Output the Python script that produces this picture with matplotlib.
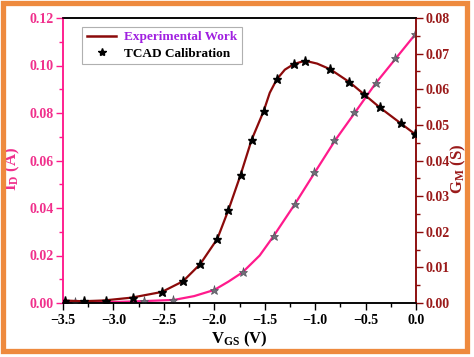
import matplotlib
matplotlib.use("Agg")
import matplotlib.pyplot as plt
from matplotlib.lines import Line2D
from matplotlib.patches import Rectangle
from matplotlib.ticker import MultipleLocator

plt.rcParams['font.family'] = ['Liberation Serif', 'DejaVu Serif']
plt.rcParams['font.weight'] = 'bold'
plt.rcParams['mathtext.fontset'] = 'custom'
plt.rcParams['mathtext.bf'] = 'Liberation Serif:bold'
plt.rcParams['mathtext.rm'] = 'Liberation Serif:bold'
plt.rcParams['mathtext.it'] = 'Liberation Serif:bold'
plt.rcParams['mathtext.default'] = 'bf'

# ---- data ----
vgs_id_line = [-3.5, -3.3, -3.0, -2.7, -2.4, -2.2, -2.0, -1.86, -1.72, -1.55, -1.41,
               -1.2, -1.0, -0.8, -0.6, -0.4, -0.2, 0.0]
id_line = [0.0005, 0.0003, 0.0004, 0.0008, 0.0013, 0.0029, 0.0055, 0.0090, 0.0129, 0.0200,
           0.0283, 0.0417, 0.0552, 0.0686, 0.0805, 0.0925, 0.1030, 0.1135]

vgs_id_tcad = [-3.38, -2.70, -2.41, -2.0, -1.72, -1.41, -1.20, -1.01, -0.81, -0.61, -0.40, -0.21, -0.01]
id_tcad = [0.0003, 0.0008, 0.0012, 0.0055, 0.0129, 0.0283, 0.0417, 0.0552, 0.0686, 0.0805,
           0.0925, 0.1030, 0.1131]

vgs_gm_line = [-3.5, -3.3, -3.1, -2.82, -2.52, -2.31, -2.14, -1.97, -1.86, -1.74, -1.63,
               -1.51, -1.45, -1.38, -1.30, -1.21, -1.10, -0.98, -0.85, -0.66, -0.52, -0.36,
               -0.15, 0.0]
gm_line = [0.0007, 0.0005, 0.0007, 0.0015, 0.0031, 0.0061, 0.0109, 0.0180, 0.0261, 0.0359,
           0.0458, 0.0539, 0.0590, 0.0628, 0.0655, 0.0671, 0.0680, 0.0672, 0.0656, 0.0620,
           0.0587, 0.0549, 0.0504, 0.0472]

vgs_gm_tcad = [-3.48, -3.29, -3.07, -2.81, -2.52, -2.31, -2.14, -1.97, -1.86, -1.74, -1.63,
               -1.51, -1.38, -1.21, -1.10, -0.85, -0.66, -0.52, -0.36, -0.15, -0.01]
gm_tcad = [0.0006, 0.0005, 0.0007, 0.0015, 0.0031, 0.0061, 0.0109, 0.0180, 0.0261, 0.0359,
           0.0458, 0.0539, 0.0628, 0.0671, 0.0680, 0.0656, 0.0620, 0.0587, 0.0549, 0.0504, 0.0474]

x_ticks = [-3.5, -3.0, -2.5, -2.0, -1.5, -1.0, -0.5, 0.0]
x_tick_labels = ['\u22123.5', '\u22123.0', '\u22122.5', '\u22122.0', '\u22121.5', '\u22121.0', '\u22120.5', '0.0']

PINK = '#ff1a8c'
PINK_TXT = '#f0308c'
DRED = '#8b0a0a'
DRED_TXT = '#9a1a1a'
PURPLE = '#a020e0'
ORANGE = '#ee8a3e'

fig = plt.figure(figsize=(4.74, 3.57), dpi=100)
fig.patches.append(Rectangle((2.5 / 474, 6.5 / 357), 464.5 / 474, 347.5 / 357,
                             transform=fig.transFigure, fill=False, edgecolor=ORANGE,
                             linewidth=3.8, zorder=0))

ax = fig.add_axes([63 / 474, 1 - 303 / 357, 353 / 474, 285 / 357])
ax2 = ax.twinx()

ax.plot(vgs_id_line, id_line, color=PINK, lw=1.6, zorder=2)
ax.plot(vgs_id_tcad, id_tcad, linestyle='none', marker='*', ms=6.5, color='#6f6f78',
        markeredgecolor='#55555e', markeredgewidth=0.5, zorder=3)

ax2.plot(vgs_gm_line, gm_line, color=DRED, lw=1.6, zorder=2)
ax2.plot(vgs_gm_tcad, gm_tcad, linestyle='none', marker='*', ms=6.5, color='black', zorder=3)

ax.set_xlim(-3.5, 0.0)
ax.set_ylim(0.0, 0.12)
ax2.set_ylim(0.0, 0.08)

ax.set_xticks(x_ticks)
ax.set_xticklabels(x_tick_labels)
ax.xaxis.set_minor_locator(MultipleLocator(0.25))
ax.yaxis.set_major_locator(MultipleLocator(0.02))
ax.yaxis.set_minor_locator(MultipleLocator(0.01))
ax2.yaxis.set_major_locator(MultipleLocator(0.01))
ax2.yaxis.set_minor_locator(MultipleLocator(0.005))
ax.yaxis.set_major_formatter(matplotlib.ticker.FormatStrFormatter('%.2f'))
ax2.yaxis.set_major_formatter(matplotlib.ticker.FormatStrFormatter('%.2f'))

ax.tick_params(axis='x', which='major', direction='out', length=5, width=1, colors='black',
               labelsize=10, pad=3)
ax.tick_params(axis='x', which='minor', direction='out', length=3, width=1, colors='black')
ax.tick_params(axis='y', which='major', direction='out', length=5, width=1, color=PINK,
               labelcolor=PINK_TXT, labelsize=10, pad=2)
ax.tick_params(axis='y', which='minor', direction='out', length=3, width=1, color=PINK)
ax2.tick_params(axis='y', which='major', direction='out', length=5, width=1, color=DRED,
                labelcolor=DRED_TXT, labelsize=10, pad=2)
ax2.tick_params(axis='y', which='minor', direction='out', length=3, width=1, color=DRED)

for lab in ax.get_xticklabels() + ax.get_yticklabels() + ax2.get_yticklabels():
    lab.set_fontweight('bold')

for a in (ax, ax2):
    a.spines['top'].set_color('black')
    a.spines['bottom'].set_color('black')
    a.spines['left'].set_color(PINK)
    a.spines['right'].set_color(DRED)
    for s in a.spines.values():
        s.set_linewidth(1.1)

ax.set_xlabel('V$_{GS}$ (V)', fontsize=12, fontweight='bold', labelpad=2)
ax.set_ylabel('I$_D$ (A)', fontsize=12, fontweight='bold', color=PINK_TXT)
ax2.set_ylabel('G$_M$ (S)', fontsize=12, fontweight='bold', color=DRED_TXT, rotation=90)
ax.yaxis.set_label_coords((22 - 63) / 353, 0.47)
ax2.yaxis.set_label_coords((449 - 63) / 353, 0.47)

handles = [Line2D([], [], color=DRED, lw=1.8),
           Line2D([], [], linestyle='none', marker='*', ms=6, color='black')]
leg = ax.legend(handles, ['Experimental Work', 'TCAD Calibration'], loc='upper left',
                bbox_to_anchor=(0.055, 0.97), fancybox=False, framealpha=1,
                edgecolor='#b0b0b0', prop={'weight': 'bold', 'size': 9.5},
                handlelength=2.2, borderpad=0.35, labelspacing=0.3, handletextpad=0.6,
                borderaxespad=0)
leg.get_texts()[0].set_color(PURPLE)
leg.get_texts()[1].set_color('black')
leg.get_frame().set_linewidth(0.8)

fig.savefig('out.png', dpi=100)
